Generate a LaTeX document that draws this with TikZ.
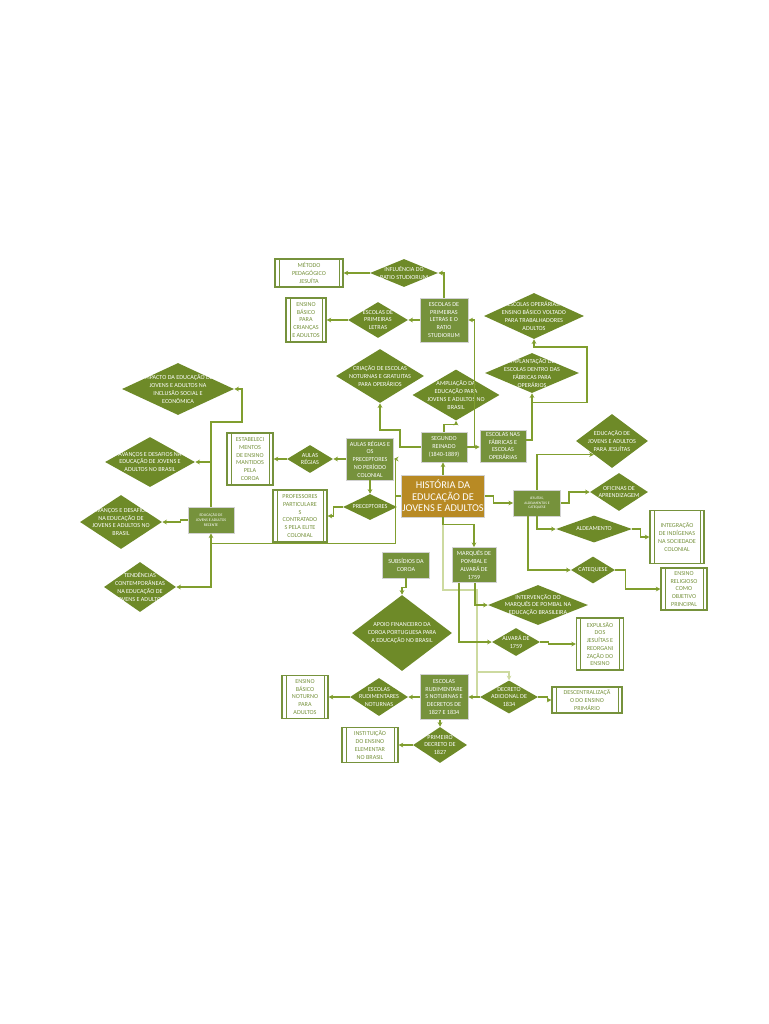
\documentclass[tikz,border=0pt]{standalone}
\usepackage{fontspec}
\setmainfont{Carlito}
\usetikzlibrary{shapes.geometric,arrows.meta,calc}
\definecolor{dgr}{RGB}{110,138,40}
\definecolor{bgr}{RGB}{118,146,60}
\definecolor{lgr}{RGB}{128,158,46}
\definecolor{pgr}{RGB}{205,218,160}
\definecolor{gold}{RGB}{184,138,36}
\newcommand\dmd[5]{\node[dshape,sz={#3}{#4}] (#1) at (#2) {}; \node[dtext] (#1t) at (#1) {#5};}
\tikzset{
 every node/.style={font=\fontsize{4.6}{5.8}\selectfont, align=center, inner sep=0.5pt},
 sz/.style 2 args={minimum width=#1*0.75pt, minimum height=#2*0.75pt},
 gbox/.style={rectangle, fill=bgr, draw=gray!35, line width=0.6pt, text=white},
 dshape/.style={diamond, fill=dgr, draw=none, inner sep=0pt},
 dtext/.style={text=white},
 pbox/.style={rectangle, fill=white, draw=bgr, line width=0.8pt, text=bgr,
   path picture={\draw[bgr, line width=0.6pt]
     ([xshift=3pt]path picture bounding box.north west) -- ([xshift=3pt]path picture bounding box.south west)
     ([xshift=-3pt]path picture bounding box.north east) -- ([xshift=-3pt]path picture bounding box.south east);}},
 conn/.style={draw=lgr, line width=0.9pt, -{Stealth[length=3.5pt,width=3.5pt]}},
 pale/.style={draw=pgr, line width=0.9pt},
}
\begin{document}
\begin{tikzpicture}[x=0.75pt,y=-0.75pt]
\useasboundingbox (0,0) rectangle (768,1024);
\fill[white] (0,0) rectangle (768,1024);

% central
\node[gbox, fill=gold, sz={77}{42}, font=\fontsize{7.8}{8.6}\selectfont] (hist) at (443,496) {HISTÓRIA DA\\EDUCAÇÃO DE\\JOVENS E ADULTOS};

% green boxes
\node[gbox, sz={48}{44}] (esc1) at (444,320) {ESCOLAS DE\\PRIMEIRAS\\LETRAS E O\\RATIO\\STUDIORUM};
\node[gbox, sz={46}{30}] (seg) at (444,447) {SEGUNDO\\REINADO\\(1840-1889)};
\node[gbox, sz={46}{32}] (fab) at (503,446) {ESCOLAS NAS\\FÁBRICAS E\\ESCOLAS\\OPERÁRIAS};
\node[gbox, sz={47}{42}] (aul) at (370,459) {AULAS RÉGIAS E\\OS\\PRECEPTORES\\NO PERÍODO\\COLONIAL};
\node[gbox, sz={46}{26}, font=\fontsize{2.9}{3.6}\selectfont] (rec) at (211,520) {EDUCAÇÃO DE\\JOVENS E ADULTOS\\RECENTE};
\node[gbox, sz={47}{26}, font=\fontsize{2.7}{3.4}\selectfont] (jes) at (537,503) {JESUÍTAS,\\ALDEAMENTOS E\\CATEQUESE};
\node[gbox, sz={44}{35}] (mar) at (474,565) {MARQUÊS DE\\POMBAL E\\ALVARÁ DE\\1759};
\node[gbox, sz={47}{26}] (sub) at (406,565) {SUBSÍDIOS DA\\COROA};
\node[gbox, sz={48}{45}] (rud) at (444,697) {ESCOLAS\\RUDIMENTARE\\S NOTURNAS E\\DECRETOS DE\\1827 E 1834};

% diamonds
\dmd{inf}{404,273}{68}{28}{INFLUÊNCIA DO\\RATIO STUDIORUM}
\dmd{dpl}{378,320}{60}{36}{ESCOLAS DE\\PRIMEIRAS\\LETRAS}
\dmd{cri}{380,376}{88}{54}{CRIAÇÃO DE ESCOLAS\\NOTURNAS E GRATUITAS\\PARA OPERÁRIOS}
\dmd{amp}{456,395}{87}{51}{AMPLIAÇÃO DA\\EDUCAÇÃO PARA\\JOVENS E ADULTOS NO\\BRASIL}
\dmd{imp}{532,373}{94}{40}{IMPLANTAÇÃO DE\\ESCOLAS DENTRO DAS\\FÁBRICAS PARA\\OPERÁRIOS}
\dmd{ope}{534,316}{100}{46}{ESCOLAS OPERÁRIAS:\\ENSINO BÁSICO VOLTADO\\PARA TRABALHADORES\\ADULTOS}
\dmd{dau}{310,459}{46}{28}{AULAS\\RÉGIAS}
\dmd{pre}{370,507}{54}{26}{PRECEPTORES}
\dmd{ipc}{178,389}{112}{52}{IMPACTO DA EDUCAÇÃO DE\\JOVENS E ADULTOS NA\\INCLUSÃO SOCIAL E\\ECONÔMICA}
\dmd{avd}{150,462}{90}{50}{AVANÇOS E DESAFIOS NA\\EDUCAÇÃO DE JOVENS E\\ADULTOS NO BRASIL}
\dmd{ave}{121,522}{82}{54}{AVANÇOS E DESAFIOS\\NA EDUCAÇÃO DE\\JOVENS E ADULTOS NO\\BRASIL}
\dmd{ten}{140,587}{72}{50}{TENDÊNCIAS\\CONTEMPORÂNEAS\\NA EDUCAÇÃO DE\\JOVENS E ADULTOS}
\dmd{eja}{612,441}{72}{54}{EDUCAÇÃO DE\\JOVENS E ADULTOS\\PARA JESUÍTAS}
\dmd{ofi}{619,492}{58}{38}{OFICINAS DE\\APRENDIZAGEM}
\dmd{ald}{594,529}{76}{27}{ALDEAMENTO}
\dmd{cat}{593,570}{44}{27}{CATEQUESE}
\dmd{apo}{402,633}{100}{76}{APOIO FINANCEIRO DA\\COROA PORTUGUESA PARA\\A EDUCAÇÃO NO BRASIL}
\dmd{int}{538,605}{100}{40}{INTERVENÇÃO DO\\MARQUÊS DE POMBAL NA\\EDUCAÇÃO BRASILEIRA}
\dmd{alv}{516,642}{48}{28}{ALVARÁ DE\\1759}
\dmd{drd}{379,697}{58}{38}{ESCOLAS\\RUDIMENTARES\\NOTURNAS}
\dmd{dad}{509,697}{58}{33}{DECRETO\\ADICIONAL DE\\1834}
\dmd{pdc}{440,745}{54}{36}{PRIMEIRO\\DECRETO DE\\1827}

% predefined-process boxes
\node[pbox, sz={68}{28}] (met) at (309,273) {MÉTODO\\PEDAGÓGICO\\JESUÍTA};
\node[pbox, sz={40}{44}] (ebc) at (306,320) {ENSINO\\BÁSICO\\PARA\\CRIANÇAS\\E ADULTOS};
\node[pbox, sz={46}{52}] (est) at (250,459) {ESTABELECI\\MENTOS\\DE ENSINO\\MANTIDOS\\PELA\\COROA};
\node[pbox, sz={54}{52}] (prf) at (300,516) {PROFESSORES\\PARTICULARE\\S\\CONTRATADO\\S PELA ELITE\\COLONIAL};
\node[pbox, sz={54}{53}] (ing) at (677,537) {INTEGRAÇÃO\\DE INDÍGENAS\\NA SOCIEDADE\\COLONIAL};
\node[pbox, sz={46}{42}] (erl) at (684,589) {ENSINO\\RELIGIOSO\\COMO\\OBJETIVO\\PRINCIPAL};
\node[pbox, sz={47}{52}] (exp) at (600,644) {EXPULSÃO\\DOS\\JESUÍTAS E\\REORGANI\\ZAÇÃO DO\\ENSINO};
\node[pbox, sz={46}{43}] (ebn) at (305,697) {ENSINO\\BÁSICO\\NOTURNO\\PARA\\ADULTOS};
\node[pbox, sz={70}{26}] (des) at (587,700) {DESCENTRALIZAÇÃ\\O DO ENSINO\\PRIMÁRIO};
\node[pbox, sz={56}{35}] (ins) at (370,745) {INSTITUIÇÃO\\DO ENSINO\\ELEMENTAR\\NO BRASIL};

% connectors
\draw[conn] (esc1.north) |- (inf.east);
\draw[conn] (inf.west) -- (met.east);
\draw[conn] (esc1.west) -- (dpl.east);
\draw[conn] (dpl.west) -- (ebc.east);
\draw[conn] (seg.east) -- (seg.east -| fab.west);
\draw[conn] (seg.east) -- ++(7,0) |- (esc1.east);
\draw[conn] (seg.north) -- ++(0,-7) -| (amp.south);
\draw[conn] (seg.west) -| (400,430) -| (cri.south);
\draw[conn] ($(fab.east)+(0,-6)$) -| (imp.south);
\draw[conn] ($(fab.east)+(0,-6)$) -| ($(imp.south)+(0,9)$) -| (587,347) -| (ope.south);
\draw[conn] (hist.north) -- (hist.north |- seg.south);
\draw[conn] (hist.west) -- ++(-6,0) |- (aul.east);
\draw[conn] (hist.west) -- ++(-6,0) |- ($(rec.south)+(0,10)$) -- (rec.south);
\draw[conn] (rec.south) ++(0,10) |- (ten.east);
\draw[conn] (rec.north) |- (242,422) |- (ipc.east);
\draw[conn] (rec.north) |- (avd.east);
\draw[conn] (rec.west) -- ++(-7,0) |- (ave.east);
\draw[conn] (aul.west) -- (dau.east);
\draw[conn] (dau.west) -- (est.east);
\draw[conn] (aul.south) -- (pre.north);
\draw[conn] (pre.west) -- ++(-9,0) |- (prf.east);
\draw[conn] (hist.east) -- ++(9,0) |- (jes.west);
\draw[conn] (jes.north) |- (eja.south west);
\draw[conn] (jes.east) -- ++(8,0) |- (ofi.west);
\draw[conn] (jes.south) |- (ald.west);
\draw[conn] ($(jes.south)+(-9,0)$) |- (cat.west);
\draw[conn] (ald.east) -- ++(8,0) |- (ing.west);
\draw[conn] (cat.east) -- ++(10,0) |- (erl.west);
\draw[pale] (hist.south) -- (443,590) -| (477,697);
\draw[pale, -{Stealth[length=3.5pt,width=3.5pt]}] (477,672) -| (dad.north);
\draw[conn] (hist.south) -- ++(0,7) -| (mar.north);
\draw[conn] ($(mar.south)+(1,0)$) |- (int.west);
\draw[conn] ($(mar.south)+(-15,0)$) |- (alv.west);
\draw[conn] (alv.east) -- ++(8,0) |- (exp.west);
\draw[conn] (sub.south) -- ++(0,9) -| (apo.north);
\draw[conn] (rud.west) -- (drd.east);
\draw[conn] (drd.west) -- (ebn.east);
\draw[conn] ($(rud.south)+(-4,0)$) -- (pdc.north);
\draw[conn] (pdc.west) -- (ins.east);
\draw[conn] (dad.west) -- (rud.east);
\draw[conn] (dad.east) -- ++(9,0) |- (des.west);
\end{tikzpicture}
\end{document}
